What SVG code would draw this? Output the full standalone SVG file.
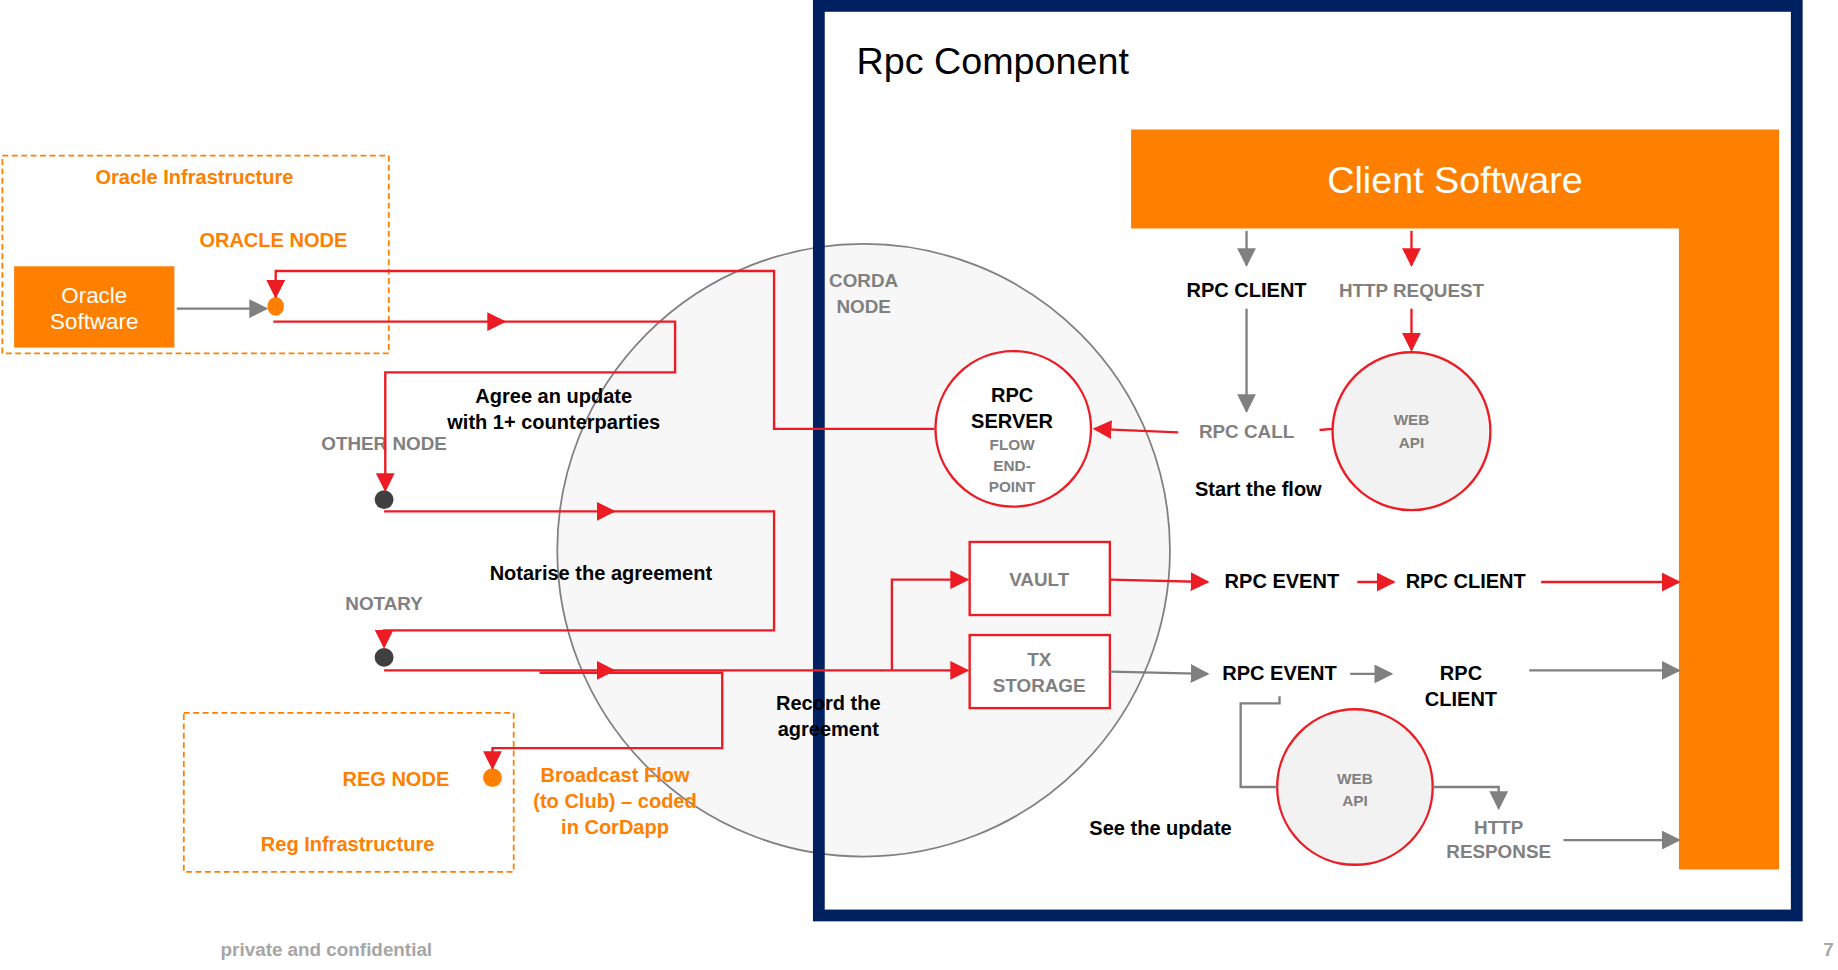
<svg xmlns="http://www.w3.org/2000/svg" width="1838" height="970" viewBox="0 0 1838 970">
<defs>
<marker id="ar" viewBox="0 0 10 10" refX="9" refY="5" markerWidth="16" markerHeight="16" orient="auto" markerUnits="userSpaceOnUse"><path d="M0,0L10,5L0,10z" fill="#ED1C24"/></marker>
<marker id="ag" viewBox="0 0 10 10" refX="9" refY="5" markerWidth="16" markerHeight="16" orient="auto" markerUnits="userSpaceOnUse"><path d="M0,0L10,5L0,10z" fill="#808080"/></marker>
<style>
text{font-family:"Liberation Sans",Arial,sans-serif;text-anchor:middle}
.b{font-weight:bold;font-size:17px;fill:#000}
.g{font-weight:bold;font-size:16px;fill:#808080}
.o{font-weight:bold;font-size:17px;fill:#FF8000}
.s{font-weight:bold;font-size:13px;fill:#808080}
.r{fill:none;stroke:#ED1C24;stroke-width:2}
.gr{fill:none;stroke:#808080;stroke-width:2}
.dash{fill:none;stroke:#FF8000;stroke-width:1.5;stroke-dasharray:5,3}
</style>
</defs>
<rect width="1838" height="970" fill="#fff"/>
<g transform="scale(1.1782)">
<g id="corda-node"><circle cx="733" cy="467" r="260" fill="#f7f7f7" stroke="#808080" stroke-width="1.5"/>
<text class="g" x="733" y="244" font-size="18">CORDA</text><text class="g" x="733" y="266" font-size="18">NODE</text></g>
<g id="rpc-frame"><rect x="695" y="5" width="830" height="772" fill="none" stroke="#002060" stroke-width="10"/>
<text x="727" y="63" style="text-anchor:start;font-size:32px">Rpc Component</text></g>
<g id="client-software"><path d="M960,110H1510V738H1425V194H960z" fill="#FF8000"/>
<text x="1235" y="164" style="font-size:32px;fill:#fff">Client Software</text></g>
<g id="oracle-infra"><rect class="dash" x="2" y="132" width="328" height="168"/>
<text class="o" x="165" y="156">Oracle Infrastructure</text><text class="o" x="232" y="210">ORACLE NODE</text>
<rect x="12" y="226" width="136" height="69" fill="#FF8000"/>
<text x="80" y="257" style="font-size:19px;fill:#fff">Oracle</text><text x="80" y="279" style="font-size:19px;fill:#fff">Software</text>
<ellipse cx="234" cy="260" rx="7" ry="8" fill="#FF8000"/></g>
<g id="other-node"><text class="g" x="326" y="382">OTHER NODE</text><circle cx="326" cy="424" r="8" fill="#404040"/></g>
<g id="notary"><text class="g" x="326" y="518">NOTARY</text><circle cx="326" cy="558" r="8" fill="#404040"/></g>
<g id="reg-infra"><rect class="dash" x="156" y="605" width="280" height="135"/>
<text class="o" x="336" y="667">REG NODE</text><text class="o" x="295" y="722">Reg Infrastructure</text>
<circle cx="418" cy="660" r="8" fill="#FF8000"/></g>
<g id="rpc-server"><circle cx="860" cy="364" r="66" fill="#fff" stroke="#ED1C24" stroke-width="2"/>
<text class="b" x="859" y="341">RPC</text><text class="b" x="859" y="363">SERVER</text>
<text class="s" x="859" y="382">FLOW</text><text class="s" x="859" y="400">END-</text><text class="s" x="859" y="418">POINT</text></g>
<g id="web-api-1"><circle cx="1198" cy="366" r="67" fill="#f2f2f2" stroke="#ED1C24" stroke-width="2"/>
<text class="s" x="1198" y="361">WEB</text><text class="s" x="1198" y="380">API</text></g>
<g id="web-api-2"><circle cx="1150" cy="668" r="66" fill="#f2f2f2" stroke="#ED1C24" stroke-width="2"/>
<text class="s" x="1150" y="665">WEB</text><text class="s" x="1150" y="684">API</text></g>
<g id="vault"><rect x="823" y="460" width="119" height="62" fill="#fff" stroke="#ED1C24" stroke-width="2"/><text class="g" x="882" y="497" font-size="18">VAULT</text></g>
<g id="tx-storage"><rect x="823" y="539" width="119" height="62" fill="#fff" stroke="#ED1C24" stroke-width="2"/><text class="g" x="882" y="565" font-size="18">TX</text><text class="g" x="882" y="587" font-size="18">STORAGE</text></g>
<g id="labels">
<text class="b" x="1058" y="252">RPC CLIENT</text><text class="g" x="1198" y="252">HTTP REQUEST</text>
<text class="g" x="1058" y="372">RPC CALL</text><text class="b" x="1068" y="421">Start the flow</text>
<text class="b" x="1088" y="499">RPC EVENT</text><text class="b" x="1244" y="499">RPC CLIENT</text>
<text class="b" x="1086" y="577">RPC EVENT</text><text class="b" x="1240" y="577">RPC</text><text class="b" x="1240" y="599">CLIENT</text>
<text class="g" x="1272" y="708">HTTP</text><text class="g" x="1272" y="728">RESPONSE</text>
<text class="b" x="985" y="709">See the update</text>
<text class="b" x="470" y="342">Agree an update</text><text class="b" x="470" y="364">with 1+ counterparties</text>
<text class="b" x="510" y="492">Notarise the agreement</text>
<text class="b" x="703" y="603">Record the</text><text class="b" x="703" y="625">agreement</text>
<text class="o" x="522" y="664">Broadcast Flow</text><text class="o" x="522" y="686">(to Club) – coded</text><text class="o" x="522" y="708">in CorDapp</text>
<text x="277" y="811" style="font-size:16px;font-weight:bold;fill:#a6a6a6">private and confidential</text>
<text x="1552" y="811" style="font-size:16px;font-weight:bold;fill:#a6a6a6">7</text>
</g>
<g id="connectors">
<line class="gr" x1="150" y1="262" x2="226" y2="262" marker-end="url(#ag)" stroke-width="2.5"/>
<path class="r" d="M793,364H657V230H234V252" marker-end="url(#ar)"/>
<path class="r" d="M232,273H428" marker-end="url(#ar)"/><path class="r" d="M420,273H573V316H327V416" marker-end="url(#ar)"/>
<path class="r" d="M326,434H521" marker-end="url(#ar)"/><path class="r" d="M513,434H657V535H326V549" marker-end="url(#ar)"/>
<path class="r" d="M326,569H521" marker-end="url(#ar)"/><path class="r" d="M513,569H821" marker-end="url(#ar)"/>
<path class="r" d="M757,569V492H821" marker-end="url(#ar)"/>
<path class="r" d="M458,571H613V635H418V652" marker-end="url(#ar)"/>
<line class="gr" x1="1058" y1="196" x2="1058" y2="225" marker-end="url(#ag)"/>
<line class="gr" x1="1058" y1="262" x2="1058" y2="349" marker-end="url(#ag)"/>
<line class="r" x1="1198" y1="196" x2="1198" y2="225" marker-end="url(#ar)"/>
<line class="r" x1="1198" y1="262" x2="1198" y2="297" marker-end="url(#ar)"/>
<line class="r" x1="1131" y1="364" x2="1120" y2="365"/>
<line class="r" x1="1000" y1="367" x2="929" y2="364" marker-end="url(#ar)"/>
<line class="r" x1="942" y1="492" x2="1025" y2="494" marker-end="url(#ar)"/>
<line class="r" x1="1152" y1="494" x2="1183" y2="494" marker-end="url(#ar)"/>
<line class="r" x1="1308" y1="494" x2="1425" y2="494" marker-end="url(#ar)"/>
<line class="gr" x1="942" y1="570" x2="1025" y2="572" marker-end="url(#ag)"/>
<line class="gr" x1="1146" y1="572" x2="1181" y2="572" marker-end="url(#ag)"/>
<line class="gr" x1="1298" y1="569" x2="1425" y2="569" marker-end="url(#ag)"/>
<path class="gr" d="M1086,591V597H1053V668H1084" stroke-width="1.5"/>
<path class="gr" d="M1216,668H1272V686" marker-end="url(#ag)"/>
<line class="gr" x1="1327" y1="713" x2="1425" y2="713" marker-end="url(#ag)"/>
</g>
</g>
</svg>
